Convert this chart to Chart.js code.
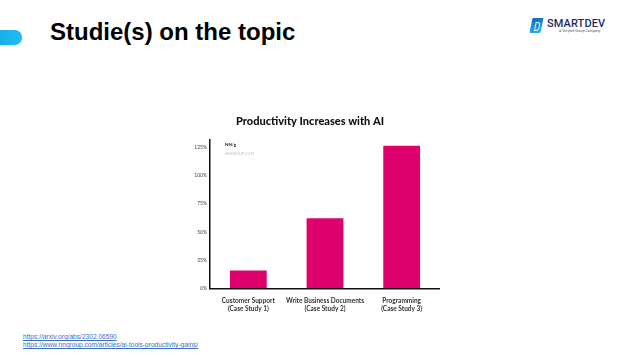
<!DOCTYPE html>
<html>
<head>
<meta charset="utf-8">
<script src="https://cdn.jsdelivr.net/npm/chart.js@4.4.1/dist/chart.umd.min.js"></script>
<style>
  html, body { margin: 0; padding: 0; background: #fff; }
  body { width: 638px; height: 359px; overflow: hidden; position: relative; font-family: "Liberation Sans", Arial, sans-serif; }
  .pill { position: absolute; left: -10px; top: 30px; width: 32px; height: 15px; border-radius: 7px; background: linear-gradient(90deg, #12a8e6, #22bdf0); }
  .heading { position: absolute; left: 50px; top: 18px; font-size: 24px; font-weight: bold; color: #000; }
  .logo-icon { position: absolute; left: 531px; top: 18px; width: 11px; height: 15px; background: linear-gradient(160deg, #1565c0, #29b6f6); transform: skewX(-12deg); border-radius: 1px; }
  .logo-icon:after { content: ""; position: absolute; left: 4px; top: 4px; width: 3px; height: 7px; border: 1px solid rgba(255,255,255,0.85); border-radius: 0 3px 3px 0; }
  .logo-text { position: absolute; left: 547px; top: 17px; font-family: Roboto, sans-serif; font-weight: 500; font-size: 11px; color: #1c2b5e; letter-spacing: 0.1px; }
  .logo-sub { position: absolute; left: 559px; top: 29px; font-family: Roboto, sans-serif; font-size: 3.5px; color: #555; }
  .links { position: absolute; left: 23px; top: 333px; font-size: 6.6px; line-height: 8px; color: #3a6fc8; }
  .links div { text-decoration: underline; }
  .nng { position: absolute; left: 225px; top: 142px; font-family: Lato, sans-serif; font-size: 4.5px; font-weight: bold; color: #222; }
  .nng-url { position: absolute; left: 225px; top: 151px; font-family: Lato, sans-serif; font-size: 3.6px; color: #bbb; letter-spacing: 0.2px; }
  #wrap { position: absolute; left: 180px; top: 105px; width: 260px; height: 216px; }
</style>
</head>
<body>
<div class="pill"></div>
<div class="heading">Studie(s) on the topic</div>
<div class="logo-icon"></div>
<div class="logo-text">SMARTDEV</div>
<div class="logo-sub">A Verysell Group Company</div>

<div id="wrap"><canvas id="chart"></canvas></div>
<div class="nng">NN/g</div>
<div class="nng-url">NNGROUP.COM</div>

<div class="links">
  <div>https://arxiv.org/abs/2302.06590</div>
  <div>https://www.nngroup.com/articles/ai-tools-productivity-gains/</div>
</div>

<script>
// chart data
const categories = [
  ["Customer Support", "(Case Study 1)"],
  ["Write Business Documents", "(Case Study 2)"],
  ["Programming", "(Case Study 3)"]
];
const increases = [16, 62, 126];
const tickValues = [0, 25, 50, 75, 100, 125];
const chartTitle = "Productivity Increases with AI";

const BAR_COLOR = "#dd006d";

const ctx = document.getElementById("chart").getContext("2d");
new Chart(ctx, {
  type: "bar",
  data: {
    labels: categories,
    datasets: [{
      data: increases,
      backgroundColor: BAR_COLOR,
      barPercentage: 0.48,
      categoryPercentage: 1
    }]
  },
  options: {
    responsive: true,
    maintainAspectRatio: false,
    animation: false,
    plugins: {
      legend: { display: false },
      tooltip: { enabled: false },
      title: {
        display: true,
        text: chartTitle,
        color: "#111",
        font: { family: "Lato", weight: "900", size: 11 },
        padding: { top: 10, bottom: 12 }
      }
    },
    scales: {
      x: {
        grid: { drawOnChartArea: false, drawTicks: false },
        border: { display: true, color: "#111", width: 1.5 },
        ticks: {
          color: "#333",
          font: { family: "Lato", weight: "bold", size: 6.5, lineHeight: 1.25 },
          padding: 8,
          maxRotation: 0,
          autoSkip: false
        },
        afterFit(scale) { scale.height = 32.5; }
      },
      y: {
        min: 0,
        max: 131,
        grid: { drawOnChartArea: false, drawTicks: false },
        border: { display: true, color: "#111", width: 1.5 },
        afterBuildTicks(scale) {
          scale.ticks = tickValues.map(v => ({ value: v }));
        },
        ticks: {
          color: "#444",
          font: { family: "Lato", size: 5 },
          padding: 3,
          callback: v => v + "%"
        },
        afterFit(scale) { scale.width = 30; }
      }
    }
  }
});
</script>
</body>
</html>
